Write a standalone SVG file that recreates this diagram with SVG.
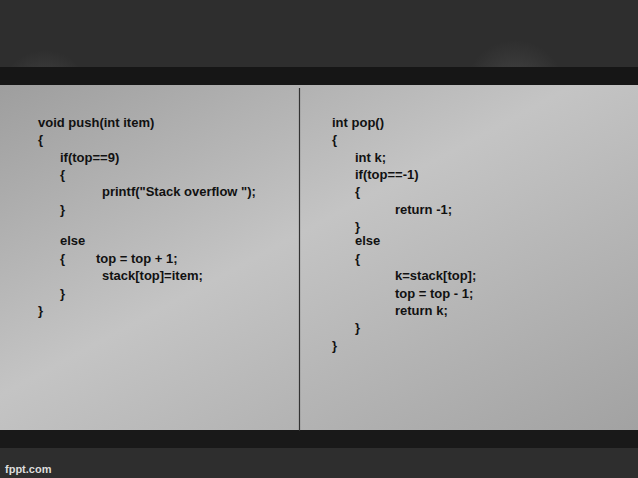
<svg xmlns="http://www.w3.org/2000/svg" width="638" height="478" viewBox="0 0 638 478">
<defs>
<linearGradient id="pan" x1="0" y1="0" x2="1" y2="1"><stop offset="0" stop-color="#9e9e9e"/><stop offset="0.45" stop-color="#c4c4c4"/><stop offset="1" stop-color="#a2a2a2"/></linearGradient>
<radialGradient id="glow" cx="0.5" cy="0.5" r="0.5"><stop offset="0" stop-color="#555" stop-opacity="0.6"/><stop offset="1" stop-color="#555" stop-opacity="0"/></radialGradient>
</defs>
<style>text{font-family:"Liberation Sans",Arial,sans-serif;font-weight:bold;font-size:13px;fill:#111}</style>
<rect width="638" height="478" fill="#2e2e2e"/>
<ellipse cx="45" cy="95" rx="45" ry="45" fill="url(#glow)"/>
<ellipse cx="515" cy="90" rx="50" ry="50" fill="url(#glow)"/>
<rect y="67" width="638" height="18" fill="#161616"/>
<rect y="85" width="638" height="345" fill="url(#pan)"/>
<rect y="430" width="638" height="18" fill="#191919"/>
<line x1="299.5" y1="88" x2="299.5" y2="431" stroke="#333" stroke-width="1.2"/>
<g id="push">
<text x="38" y="127">void push(int item)</text>
<text x="38" y="144">{</text>
<text x="60" y="162">if(top==9)</text>
<text x="60" y="179">{</text>
<text x="102" y="196">printf("Stack overflow ");</text>
<text x="60" y="214">}</text>
<text x="60" y="245">else</text>
<text x="60" y="263">{</text>
<text x="96" y="263">top = top + 1;</text>
<text x="102" y="280">stack[top]=item;</text>
<text x="60" y="298">}</text>
<text x="38" y="315">}</text>
</g>
<g id="pop">
<text x="332" y="127">int pop()</text>
<text x="332" y="144">{</text>
<text x="355" y="162">int k;</text>
<text x="355" y="179">if(top==-1)</text>
<text x="355" y="196">{</text>
<text x="395" y="214">return -1;</text>
<text x="355" y="231">}</text>
<text x="355" y="245">else</text>
<text x="355" y="263">{</text>
<text x="395" y="280">k=stack[top];</text>
<text x="395" y="298">top = top - 1;</text>
<text x="395" y="315">return k;</text>
<text x="355" y="332">}</text>
<text x="332" y="350">}</text>
</g>
<text x="5" y="473" style="fill:#ddd;font-size:11px">fppt.com</text>
</svg>
